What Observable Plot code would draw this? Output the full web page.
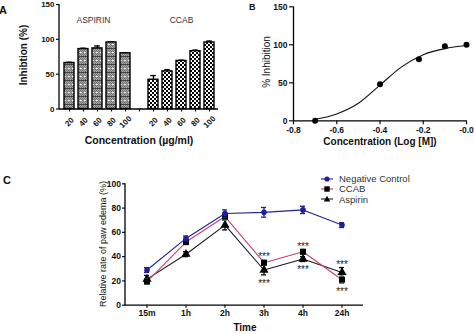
<!DOCTYPE html>
<html>
<head>
<meta charset="utf-8">
<script src="https://cdn.jsdelivr.net/npm/d3@7"></script>
<script src="https://cdn.jsdelivr.net/npm/@observablehq/plot@0.6"></script>
<style>
  body { margin: 0; background: #fff; }
  #fig { position: relative; width: 474px; height: 334px; overflow: hidden; background: #fff;
         font-family: "Liberation Sans", Arial, sans-serif; color: #111; }
  .abs { position: absolute; white-space: nowrap; line-height: 1; }
  .panel { position: absolute; }
  .bold { font-weight: bold; }
  .vt { transform: translate(-50%, -50%) rotate(-90deg); }
  .legend-row { position: absolute; display: flex; align-items: center; font-size: 9.5px; color: #333; line-height: 1; }
  .legend-row svg { margin-right: 6px; }
</style>
</head>
<body>
<svg width="0" height="0" style="position:absolute">
  <defs>
    <pattern id="grayChecker" width="2" height="2" patternUnits="userSpaceOnUse">
      <rect width="2" height="2" fill="#a9a9a9"/>
      <rect width="1" height="1" fill="#707070"/>
      <rect x="1" y="1" width="1" height="1" fill="#707070"/>
    </pattern>
    <pattern id="aspirinFill" width="4" height="8" patternUnits="userSpaceOnUse">
      <rect width="4" height="8" fill="url(#grayChecker)"/>
      <rect y="0" width="4" height="1" fill="#454545"/>
      <rect y="4" width="2" height="1" fill="#ececec"/>
    </pattern>
    <pattern id="ccabFill" width="4" height="4" patternUnits="userSpaceOnUse">
      <rect width="4" height="4" fill="#fff"/>
      <rect width="2" height="2" fill="#000"/>
      <rect x="2" y="2" width="2" height="2" fill="#000"/>
    </pattern>
  </defs>
</svg>
<div id="fig"></div>
<script>
// ---------- Panel A: in-vitro inhibition by concentration ----------
const concLabels = ["20", "40", "60", "80", "100"];
const groupNames = ["ASPIRIN", "CCAB"];
const aspirinInhibition = [66, 86, 87, 95.5, 80];
const aspirinSem = [1, 1.2, 3.5, 1, 0.6];
const ccabInhibition = [42, 54, 69, 83, 95.5];
const ccabSem = [6, 2.5, 1, 1.5, 2];
const inhibitionTicks = [0, 50, 100, 150];

// ---------- Panel B: dose-response ----------
const logConc = [-0.7, -0.4, -0.22, -0.1, 0];
const pctInhibition = [0, 48, 81, 98, 100];
const fitLogConc = [-0.7, -0.6, -0.5, -0.4, -0.3, -0.2, -0.1, 0];
const fitInhibition = [2, 9, 23, 47, 71, 87, 95, 99];
const logTicks = [-0.8, -0.6, -0.4, -0.2, 0];
const logTickLabels = ["-0.8", "-0.6", "-0.4", "-0.2", "-0.0"];

// ---------- Panel C: paw edema over time ----------
const times = ["15m", "1h", "2h", "3h", "4h", "24h"];
const seriesNames = ["Negative Control", "CCAB", "Aspirin"];
const controlMean = [29, 55, 75.5, 76.5, 78.5, 66];
const controlSem = [2, 2, 3, 4, 3, 2];
const ccabMean = [19.5, 52, 73, 35, 44, 21];
const ccabEdemaSem = [2, 2, 3, 2, 2, 3];
const aspirinMean = [21.5, 42, 66, 29, 38, 27];
const aspirinEdemaSem = [3, 2, 4, 4, 2, 4];
const edemaTicks = [0, 20, 40, 60, 80, 100];
// significance marks: time point, series, placed above or below its error bar
const starTimes = ["3h", "3h", "4h", "4h", "24h", "24h"];
const starSeries = ["CCAB", "Aspirin", "CCAB", "Aspirin", "Aspirin", "CCAB"];
const starSide = ["above", "below", "above", "below", "above", "below"];

const FONT = '"Liberation Sans", Arial, sans-serif';
const fig = document.getElementById("fig");

function place(node, left, top) {
  node.classList.add("panel");
  node.style.left = left + "px";
  node.style.top = top + "px";
  fig.appendChild(node);
  return node;
}
function addText(text, left, top, style = "", cls = "") {
  const el = document.createElement("div");
  el.className = "abs " + cls;
  el.textContent = text;
  el.style.cssText += `left:${left}px;top:${top}px;${style}`;
  fig.appendChild(el);
  return el;
}
// vertical axis line drawn at the left edge of the x range
function addYAxisLine(chart) {
  const x0 = chart.scale("x").range[0];
  const [y0, y1] = chart.scale("y").range;
  d3.select(chart).append("line")
    .attr("x1", x0).attr("x2", x0).attr("y1", y0 + 0.6).attr("y2", y1)
    .attr("stroke", "#000").attr("stroke-width", 1.3);
}

// ----- Panel A -----
const bars = [];
groupNames.forEach((g, gi) => {
  const vals = gi === 0 ? aspirinInhibition : ccabInhibition;
  const sems = gi === 0 ? aspirinSem : ccabSem;
  concLabels.forEach((c, i) => bars.push({key: `${g} ${c}`, label: c, group: g, value: vals[i], sem: sems[i]}));
});
const xDomainA = [...bars.filter(d => d.group === "ASPIRIN").map(d => d.key), "gap", ...bars.filter(d => d.group === "CCAB").map(d => d.key)];
const labelOf = new Map(bars.map(d => [d.key, d.label]));

const chartA = Plot.plot({
  width: 237, height: 150,
  marginLeft: 59, marginRight: 19, marginTop: 4, marginBottom: 41.5,
  style: {fontFamily: FONT, overflow: "visible", background: "transparent", color: "#111"},
  x: {type: "band", domain: xDomainA, paddingInner: 0.3, paddingOuter: 0},
  y: {domain: [0, 150]},
  marks: [
    Plot.ruleX(bars, {x: "key", y1: "value", y2: d => d.value + d.sem, stroke: "#000", strokeWidth: 1.4}),
    Plot.tickY(bars, {x: "key", y: d => d.value + d.sem, stroke: "#000", strokeWidth: 1.4, insetLeft: 2.2, insetRight: 2.2}),
    Plot.barY(bars.filter(d => d.group === "ASPIRIN"), {x: "key", y: "value", fill: "url(#aspirinFill)", stroke: "#000", strokeWidth: 1.4}),
    Plot.barY(bars.filter(d => d.group === "CCAB"), {x: "key", y: "value", fill: "url(#ccabFill)", stroke: "#000", strokeWidth: 1.4}),
    Plot.text(groupNames.slice(0, 1), {x: g => `${g} 60`, frameAnchor: "top", dy: 12, dx: -4, text: d => d, fontSize: 8.5, fill: "#333"}),
    Plot.text(groupNames.slice(1), {x: g => `${g} 60`, frameAnchor: "top", dy: 12, text: d => d, fontSize: 8.5, fill: "#333"}),
    Plot.ruleY([0], {stroke: "#000", strokeWidth: 1.3}),
    Plot.axisY({ticks: inhibitionTicks, tickSize: 3, tickPadding: 2, fontSize: 8, fontWeight: "bold", label: null, strokeWidth: 1.2}),
    Plot.axisX({tickSize: 3, tickRotate: -45, tickFormat: k => labelOf.get(k) ?? "", textAnchor: "middle", lineAnchor: "middle", tickPadding: 10, fontSize: 8, fontWeight: "bold", label: null, strokeWidth: 1.2})
  ]
});
addYAxisLine(chartA);
place(chartA, 0, 0);

// ----- Panel B -----
const points = logConc.map((x, i) => ({x, y: pctInhibition[i]}));
const fit = fitLogConc.map((x, i) => ({x, y: fitInhibition[i]}));
const chartB = Plot.plot({
  width: 237, height: 150,
  marginLeft: 56, marginRight: 8, marginTop: 6.3, marginBottom: 29.7,
  style: {fontFamily: FONT, overflow: "visible", background: "transparent", color: "#111"},
  x: {domain: [-0.8, 0]},
  y: {domain: [0, 150]},
  marks: [
    Plot.ruleX([-0.8], {stroke: "#000", strokeWidth: 1.3}),
    Plot.ruleY([0], {stroke: "#000", strokeWidth: 1.3}),
    Plot.axisY({ticks: inhibitionTicks, tickSize: 4, tickPadding: 2, fontSize: 8.5, fontWeight: "bold", label: null, strokeWidth: 1.2}),
    Plot.axisX({ticks: logTicks, tickFormat: (d, i) => logTickLabels[i], tickSize: 4, tickPadding: 2.5, fontSize: 8.5, fontWeight: "bold", label: null, strokeWidth: 1.2}),
    Plot.line(fit, {x: "x", y: "y", curve: "monotone-x", stroke: "#111", strokeWidth: 1.1}),
    Plot.dot(points, {x: "x", y: "y", r: 3, fill: "#000"})
  ]
});
place(chartB, 237, 0);

// ----- Panel C -----
const seriesData = {
  "Negative Control": {mean: controlMean, sem: controlSem, line: "#23239a", marker: "#1f1f9e", symbol: "circle", r: 2.8, err: "#1f1f9e"},
  "CCAB": {mean: ccabMean, sem: ccabEdemaSem, line: "#c8406c", marker: "#000", symbol: "square", r: 3.4, err: "#2fa37c"},
  "Aspirin": {mean: aspirinMean, sem: aspirinEdemaSem, line: "#1a1a1a", marker: "#000", symbol: "triangle", r: 3.4, err: "#000"}
};
const rows = seriesNames.flatMap(s => times.map((t, i) => ({series: s, time: t, mean: seriesData[s].mean[i], sem: seriesData[s].sem[i]})));
const rowOf = (s, t) => rows.find(d => d.series === s && d.time === t);
const stars = starTimes.map((t, i) => {
  const r = rowOf(starSeries[i], t);
  return {time: t, side: starSide[i], y: starSide[i] === "above" ? r.mean + r.sem : r.mean - r.sem};
});

const seriesMarks = [];
for (const s of ["Aspirin", "CCAB", "Negative Control"]) {
  const cfg = seriesData[s];
  const data = rows.filter(d => d.series === s);
  seriesMarks.push(
    Plot.line(data, {x: "time", y: "mean", stroke: cfg.line, strokeWidth: 1.1}),
    Plot.ruleX(data, {x: "time", y1: d => d.mean - d.sem, y2: d => d.mean + d.sem, stroke: cfg.err, strokeWidth: 1.3}),
    Plot.tickY(data, {x: "time", y: d => d.mean + d.sem, stroke: cfg.err, strokeWidth: 1.3}),
    Plot.tickY(data, {x: "time", y: d => d.mean - d.sem, stroke: cfg.err, strokeWidth: 1.3}),
    Plot.dot(data, {x: "time", y: "mean", symbol: cfg.symbol, r: cfg.r, fill: cfg.marker, stroke: "none"})
  );
}

// band scale with wide inner padding: centres sit at the category slots, the narrow band gives the error-bar caps
const chartC = Plot.plot({
  width: 474, height: 164,
  marginLeft: 125, marginRight: 111, marginTop: 13.3, marginBottom: 29.3,
  style: {fontFamily: FONT, overflow: "visible", background: "transparent", color: "#111"},
  x: {type: "band", domain: times, paddingInner: 0.87, paddingOuter: 0.435},
  y: {domain: [0, 100]},
  marks: [
    Plot.ruleY([0], {stroke: "#000", strokeWidth: 1.3}),
    Plot.axisY({ticks: edemaTicks, tickSize: 3, tickPadding: 1.5, fontSize: 8.5, fontWeight: "bold", label: null, strokeWidth: 1.2}),
    Plot.axisX({tickSize: 3, tickPadding: 1.5, fontSize: 8.5, fontWeight: "bold", label: null, strokeWidth: 1.2}),
    ...seriesMarks,
    Plot.text(stars.filter(d => d.side === "above"), {x: "time", y: "y", text: () => "***", dy: -3, fontSize: 10, fill: "#1a1a1a", opacity: 0.99}),
    Plot.text(stars.filter(d => d.side === "below"), {x: "time", y: "y", text: () => "***", dy: 8.5, fontSize: 10, fill: "#1a1a1a", opacity: 0.99})
  ]
});
addYAxisLine(chartC);
place(chartC, 0, 170);

// ----- titles and panel letters -----
addText("A", -1, 5, "font-size:11px;", "bold");
addText("B", 249, 3, "font-size:9px;", "bold");
addText("C", 3, 175, "font-size:11px;", "bold");

addText("Inhibtion (%)", 24, 55, "font-size:10px;", "bold vt");
addText("Concentration (µg/ml)", 139, 140, "font-size:10.5px;transform:translate(-50%,-50%);", "bold");

addText("% Inhibition", 267, 62, "font-size:10px;", "vt");
addText("Concentration (Log [M])", 380, 141.5, "font-size:10px;transform:translate(-50%,-50%);", "bold");

addText("Relative rate of paw edema (%)", 103, 244, "font-size:9px;", "vt");
addText("Time", 245, 328, "font-size:10px;transform:translate(-50%,-50%);", "bold");

// ----- legend for panel C -----
const legendSymbols = {
  "Negative Control": '<circle cx="6" cy="4" r="2.6" fill="#1f1f9e"/>',
  "CCAB": '<rect x="3.3" y="1.3" width="5.4" height="5.4" fill="#000"/>',
  "Aspirin": '<path d="M6 0.8 L9.2 6.6 L2.8 6.6 Z" fill="#000"/>'
};
seriesNames.forEach((s, i) => {
  const row = document.createElement("div");
  row.className = "legend-row";
  row.style.left = "321px";
  row.style.top = (174 + i * 10.3) + "px";
  row.innerHTML = `<svg width="12" height="8"><line x1="0" x2="12" y1="4" y2="4" stroke="${seriesData[s].line}" stroke-width="1.1"/>${legendSymbols[s]}</svg><span></span>`;
  row.querySelector("span").textContent = s;
  fig.appendChild(row);
});
</script>
</body>
</html>
